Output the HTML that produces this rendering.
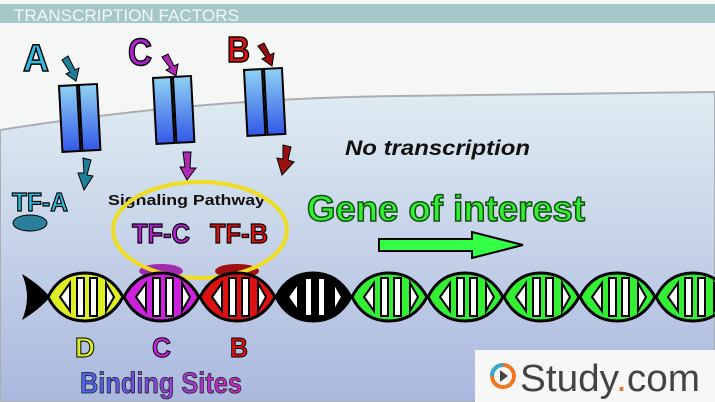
<!DOCTYPE html>
<html><head><style>
html,body{margin:0;padding:0;width:715px;height:402px;overflow:hidden}
svg{display:block}
text{font-family:"Liberation Sans",sans-serif;font-weight:bold}
</style></head><body>
<svg width="715" height="402" viewBox="0 0 715 402" xmlns="http://www.w3.org/2000/svg">
<defs>
<linearGradient id="bg" x1="0" y1="0" x2="0" y2="1">
<stop offset="0" stop-color="#e0ecf2"/><stop offset="1" stop-color="#aab8de"/></linearGradient>
<linearGradient id="rec" x1="0" y1="0" x2="0" y2="1">
<stop offset="0" stop-color="#8fd2f4"/><stop offset="1" stop-color="#3358e8"/></linearGradient>
<linearGradient id="bs" x1="0" y1="0" x2="1" y2="0">
<stop offset="0" stop-color="#4466ee"/><stop offset="1" stop-color="#cc22bb"/></linearGradient>
<g id="seg">
<path d="M0,0 Q12,-24 37,-24 Q62,-24 75,0 Q62,24 37,24 Q12,24 0,0Z" stroke="#000" stroke-width="3"/>
<path d="M12,0 L22,-14 L22,14Z M58,-14 L58,14 L66,0Z" fill="#fff" stroke="#000" stroke-width="2"/>
<rect x="29" y="-19" width="7" height="38" fill="#fff" stroke="#000" stroke-width="2"/>
<rect x="42" y="-19" width="7" height="38" fill="#fff" stroke="#000" stroke-width="2"/>
</g>
<g id="recp">
<rect x="0" y="0" width="18" height="66" fill="url(#rec)" stroke="#000" stroke-width="2"/>
<rect x="20" y="0" width="18" height="66" fill="url(#rec)" stroke="#000" stroke-width="2"/>
</g>
</defs>
<rect width="715" height="402" fill="#f5f7f7"/>
<path d="M0,130 Q200,98 400,96 Q600,94 715,92 L715,402 L0,402Z" fill="url(#bg)" stroke="#a8aeb2" stroke-width="2"/>
<rect x="0" y="4" width="715" height="19" fill="#a7c8c8"/>
<text x="14" y="21" font-size="17" fill="#f2f6f6" style="font-weight:normal" textLength="225" lengthAdjust="spacingAndGlyphs">TRANSCRIPTION FACTORS</text>

<text x="23" y="71" font-size="38" fill="#33bbe0" stroke="#000" stroke-width="1.5" textLength="26" lengthAdjust="spacingAndGlyphs">A</text>
<text x="128" y="65" font-size="38" fill="#b022d0" stroke="#000" stroke-width="1.5" textLength="24" lengthAdjust="spacingAndGlyphs">C</text>
<text x="227" y="62" font-size="36" fill="#dd1111" stroke="#000" stroke-width="1.5" textLength="23" lengthAdjust="spacingAndGlyphs">B</text>

<g transform="translate(59,86) rotate(-3)"><use href="#recp"/></g>
<g transform="translate(153,78) rotate(-3)"><use href="#recp"/></g>
<g transform="translate(244,70) rotate(-3)"><use href="#recp"/></g>

<g stroke="#000" stroke-width="1">
<path d="M62,60 L68,56 L75,70 L79,68 L76,81 L66,74 L70,72Z" fill="#1f7f9a"/>
<path d="M162,57 L168,54 L174,66 L178,64 L176,76 L166,70 L170,68Z" fill="#aa2bb0"/>
<path d="M258,46 L264,43 L270,55 L274,53 L272,66 L262,59 L266,57Z" fill="#9a1010"/>
<path d="M83,158 L91,160 L87,175 L93,176 L84,190 L78,173 L84,173Z" fill="#1f7f9a"/>
<path d="M183,152 L191,152 L190,168 L196,168 L187,180 L180,167 L185,167Z" fill="#aa2bb0"/>
<path d="M283,145 L291,147 L288,160 L294,162 L282,175 L277,158 L283,159Z" fill="#9a1010"/>
</g>

<text x="345" y="155" font-size="21" fill="#111" font-style="italic" textLength="185" lengthAdjust="spacingAndGlyphs">No transcription</text>
<text x="12" y="211" font-size="26" fill="#33bbe0" stroke="#000" stroke-width="1.2" textLength="56" lengthAdjust="spacingAndGlyphs">TF-A</text>
<ellipse cx="30" cy="223" rx="17" ry="8" fill="#2a7f9a" stroke="#000" stroke-width="1"/>
<text x="108" y="205" font-size="15" fill="#111" textLength="157" lengthAdjust="spacingAndGlyphs">Signaling Pathway</text>
<text x="307" y="221" font-size="36" fill="#33ee33" stroke="#145014" stroke-width="1.5" textLength="278" lengthAdjust="spacingAndGlyphs">Gene of interest</text>
<path d="M379,239 L472,239 L472,232 L523,245 L472,258 L472,251 L379,251Z" fill="#33ff44" stroke="#000" stroke-width="2"/>

<ellipse cx="161" cy="271" rx="22" ry="7" fill="#a02cb0"/>
<ellipse cx="237" cy="271" rx="22" ry="7" fill="#a01010"/>
<text x="132" y="243" font-size="28" fill="#b022d0" stroke="#000" stroke-width="1.2" textLength="58" lengthAdjust="spacingAndGlyphs">TF-C</text>
<text x="210" y="243" font-size="28" fill="#dd1111" stroke="#000" stroke-width="1.2" textLength="58" lengthAdjust="spacingAndGlyphs">TF-B</text>
<ellipse cx="200" cy="230" rx="87" ry="48" fill="none" stroke="#eedd22" stroke-width="4"/>

<path d="M22,274 Q40,285 50,297 Q40,309 22,320 Q32,297 22,274Z" fill="#000"/>
<g transform="translate(48,297)"><use href="#seg" fill="#ddee22"/></g>
<g transform="translate(124,297)"><use href="#seg" fill="#cc22dd"/></g>
<g transform="translate(200,297)"><use href="#seg" fill="#dd1111"/></g>
<g transform="translate(276,297)"><use href="#seg" fill="#000"/></g>
<g transform="translate(352,297)"><use href="#seg" fill="#33ee33"/></g>
<g transform="translate(428,297)"><use href="#seg" fill="#33ee33"/></g>
<g transform="translate(504,297)"><use href="#seg" fill="#33ee33"/></g>
<g transform="translate(580,297)"><use href="#seg" fill="#33ee33"/></g>
<g transform="translate(656,297)"><use href="#seg" fill="#33ee33"/></g>

<text x="75" y="357" font-size="28" fill="#ddee22" stroke="#000" stroke-width="1" textLength="20" lengthAdjust="spacingAndGlyphs">D</text>
<text x="152" y="357" font-size="28" fill="#cc22dd" stroke="#000" stroke-width="1" textLength="19" lengthAdjust="spacingAndGlyphs">C</text>
<text x="230" y="357" font-size="28" fill="#dd1111" stroke="#000" stroke-width="1" textLength="18" lengthAdjust="spacingAndGlyphs">B</text>
<text x="80" y="393" font-size="30" fill="url(#bs)" stroke="#222" stroke-width="0.8" textLength="162" lengthAdjust="spacingAndGlyphs">Binding Sites</text>

<rect x="475" y="350" width="240" height="52" fill="#f7f7f7"/>
<circle cx="503" cy="376" r="11" fill="none" stroke="#ee7722" stroke-width="4"/>
<path d="M492,376 A11,11 0 0 1 503,365" fill="none" stroke="#33aacc" stroke-width="4"/>
<path d="M500,370 L508,376 L500,382Z" fill="#444"/>
<text x="520" y="391" font-size="38" fill="#444" style="font-weight:normal" textLength="180" lengthAdjust="spacingAndGlyphs">Study<tspan fill="#ee7722">.</tspan>com</text>
</svg>
</body></html>
